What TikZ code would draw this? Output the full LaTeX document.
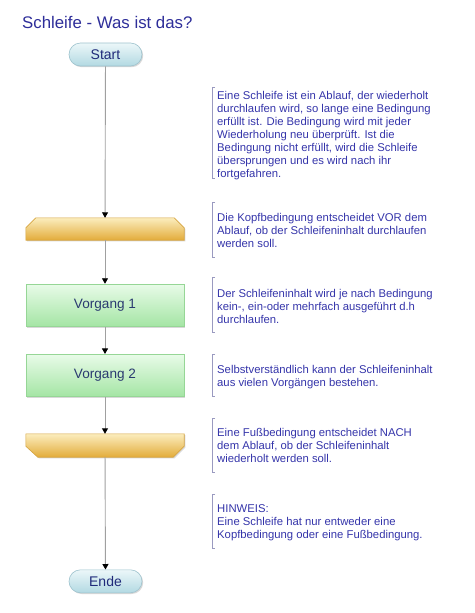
\documentclass[tikz,border=0pt]{standalone}
\usepackage{fontspec}
\setmainfont{Liberation Sans}
\usetikzlibrary{arrows.meta,shadows}
\definecolor{titlecol}{HTML}{2E2E9A}
\definecolor{notecol}{HTML}{3535AA}
\definecolor{bracketcol}{HTML}{9A9AC0}
\definecolor{linecol}{HTML}{A0A0A0}
\definecolor{termtop}{HTML}{ECF7F9}
\definecolor{termbot}{HTML}{B2D9E2}
\definecolor{termdraw}{HTML}{9EC3CE}
\definecolor{termtext}{HTML}{1F2A7A}
\definecolor{proctop}{HTML}{E8FBE8}
\definecolor{procbot}{HTML}{A4E5A4}
\definecolor{procdraw}{HTML}{96D696}
\definecolor{proctext}{HTML}{2A3A70}
\definecolor{condtop}{HTML}{FBEDBE}
\definecolor{condbot}{HTML}{E3AC3A}
\definecolor{conddraw}{HTML}{D7A540}
\tikzset{
  sh/.style={drop shadow={shadow xshift=1.2pt,shadow yshift=-1.2pt,opacity=0.25,fill=black!60}},
  term/.style={sh,rectangle,rounded corners=11.5pt,minimum width=73pt,minimum height=23pt,
    top color=termtop,bottom color=termbot,draw=termdraw,line width=0.6pt,
    text=termtext,font=\fontsize{14}{16}\selectfont,inner sep=0pt},
  proc/.style={sh,rectangle,minimum width=158pt,minimum height=42.5pt,
    top color=proctop,bottom color=procbot,draw=procdraw,line width=0.6pt,
    text=proctext,font=\fontsize{13.6}{16}\selectfont,inner sep=0pt},
  condbox/.style={rectangle,minimum width=158pt,minimum height=22pt,inner sep=0pt},
  condfill/.style={sh,top color=condtop,bottom color=condbot,draw=conddraw,line width=0.6pt},
  flow/.style={draw=linecol,line width=0.9pt,-{Triangle[width=6pt,length=5.5pt,color=black]}},
  note/.style={anchor=north west,inner sep=0pt,align=left,text=notecol,
    font=\fontsize{11.3}{13}\selectfont},
  brk/.style={draw=bracketcol,line width=0.7pt},
}
\begin{document}
\begin{tikzpicture}[x=1pt,y=-1pt]
\useasboundingbox[fill=white] (0,0) rectangle (474,613);
\node[anchor=west,inner sep=0pt,text=titlecol,font=\fontsize{16.8}{20}\selectfont] (title) at (22,22.7) {Schleife - Was ist das?};

\node[term] (start) at (105.5,54.5) {Start};
\node[condbox] (kopf) at (105,229) {};
\node[proc] (v1) at (105,305.3) {Vorgang 1};
\node[proc] (v2) at (105,375.5) {Vorgang 2};
\node[condbox,minimum height=23pt] (fuss) at (105,445.5) {};
\node[term] (ende) at (105.5,581.3) {Ende};

\path[condfill] ([xshift=10pt]kopf.north west) -- ([yshift=-10pt]kopf.north west) -- (kopf.south west)
  -- (kopf.south east) -- ([yshift=-10pt]kopf.north east) -- ([xshift=-10pt]kopf.north east) -- cycle;
\path[condfill] (fuss.north west) -- ([yshift=11pt]fuss.south west) -- ([xshift=12pt]fuss.south west)
  -- ([xshift=-11pt]fuss.south east) -- ([yshift=11pt]fuss.south east) -- (fuss.north east) -- cycle;

\draw[flow] (start) -- (kopf);
\draw[flow] (kopf) -- (v1);
\draw[flow] (v1) -- (v2);
\draw[flow] (v2) -- (fuss);
\draw[flow] (fuss) -- (ende);

\node[note] (n1) at (217,90.8) {Eine Schleife ist ein Ablauf, der wiederholt\\durchlaufen wird, so lange eine Bedingung\\erfüllt ist. Die Bedingung wird mit jeder\\Wiederholung neu überprüft. Ist die\\Bedingung nicht erfüllt, wird die Schleife\\übersprungen und es wird nach ihr\\fortgefahren.};
\node[note] (n2) at (217,212.8) {Die Kopfbedingung entscheidet VOR dem\\Ablauf, ob der Schleifeninhalt durchlaufen\\werden soll.};
\node[note] (n3) at (217,288.8) {Der Schleifeninhalt wird je nach Bedingung\\kein-, ein-oder mehrfach ausgeführt d.h\\durchlaufen.};
\node[note] (n4) at (217,364.8) {Selbstverständlich kann der Schleifeninhalt\\aus vielen Vorgängen bestehen.};
\node[note] (n5) at (217,427.8) {Eine Fußbedingung entscheidet NACH\\dem Ablauf, ob der Schleifeninhalt\\wiederholt werden soll.};
\node[note] (n6) at (217,504.8) {HINWEIS:\\Eine Schleife hat nur entweder eine\\Kopfbedingung oder eine Fußbedingung.};

\draw[brk] (215,87) -- (212,87) -- (212,178) -- (215,178);
\draw[brk] (215,202) -- (212,202) -- (212,257) -- (215,257);
\draw[brk] (215,277) -- (212,277) -- (212,332) -- (215,332);
\draw[brk] (215,354) -- (212,354) -- (212,396) -- (215,396);
\draw[brk] (215,418) -- (212,418) -- (212,472) -- (215,472);
\draw[brk] (215,494) -- (212,494) -- (212,548) -- (215,548);
\end{tikzpicture}
\end{document}
